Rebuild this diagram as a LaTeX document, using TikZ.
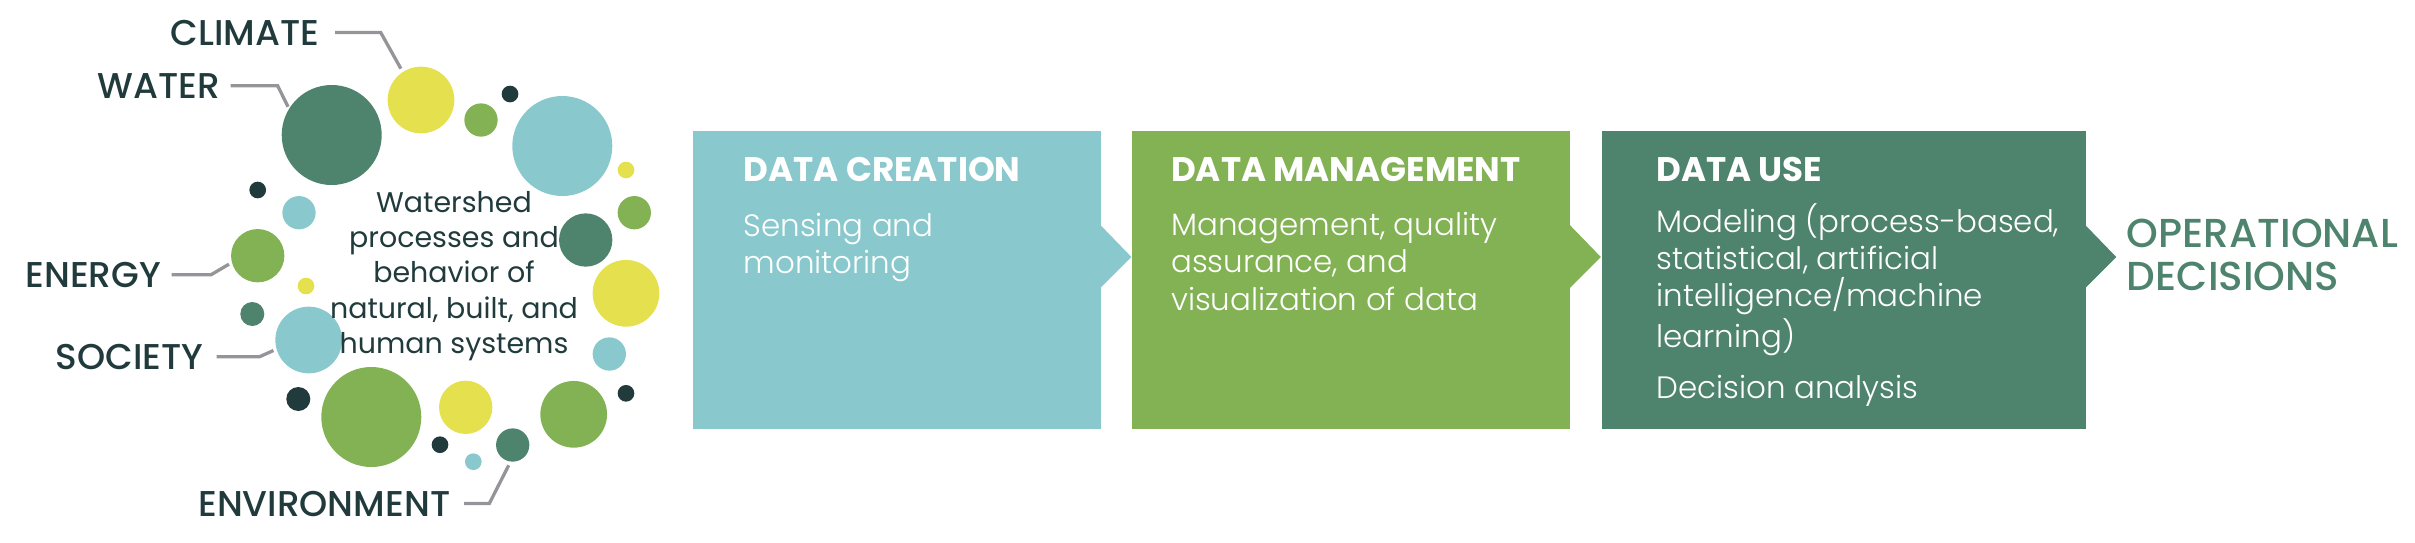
\documentclass[tikz,border=0pt]{standalone}
\usepackage{fontspec}
\setmainfont{Poppins}
\newfontfamily\lightfont{Poppins Light}
\newfontfamily\mediumfont{Poppins Medium}
\usepackage{tikz}
\usetikzlibrary{positioning, calc}

\definecolor{lblue}{HTML}{89C9CD}
\definecolor{lgreen}{HTML}{82B253}
\definecolor{dkgreen}{HTML}{4E836D}
\definecolor{lyellow}{HTML}{E4E04E}
\definecolor{ink}{HTML}{213B3D}
\definecolor{leadgray}{HTML}{939598}

\begin{document}
\begin{tikzpicture}[x=0.1mm, y=-0.1mm,
    bubble/.style={circle, inner sep=0pt, draw=none},
    r8/.style={bubble, minimum size=1.67mm},
    r12/.style={bubble, minimum size=2.4mm},
    r17/.style={bubble, minimum size=3.33mm},
    r27/.style={bubble, minimum size=5.33mm},
    r33/.style={bubble, minimum size=6.67mm},
    r50/.style={bubble, minimum size=10mm},
    stage/.style={rectangle, inner sep=0pt, anchor=north west,
                  minimum height=29.8mm, draw=none},
    title/.style={font=\bfseries\fontsize{9.7}{11}\selectfont,
                  text=white, anchor=base west, inner sep=0pt},
    body/.style={font=\lightfont\fontsize{8.8}{10.53}\selectfont,
                 text=white, align=left, anchor=base west, inner sep=0pt},
    tag/.style={font=\mediumfont\fontsize{10.2}{11}\selectfont,
                text=ink, anchor=base east, inner sep=0pt},
    leader/.style={draw=leadgray, line width=0.33mm}]
    \useasboundingbox (0,0) rectangle (2415,542);

    % Add the bubbles
        \node[r50, fill=dkgreen] (water) at (331.7,135) {};
        \node[r33, fill=lyellow] (climate) at (421,100) {};
        \node[r17, fill=lgreen] (b3) at (481,120) {};
        \node[r8, fill=ink] (b4) at (510,94) {};
        \node[r50, fill=lblue] (b5) at (562.3,146) {};
        \node[r8, fill=lyellow] (b6) at (626,170) {};
        \node[r17, fill=lgreen] (b7) at (634.3,212.7) {};
        \node[r27, fill=dkgreen] (b8) at (585.7,240) {};
        \node[r33, fill=lyellow] (b9) at (626,293.3) {};
        \node[r17, fill=lblue] (b10) at (609.3,354) {};
        \node[r8, fill=ink] (b11) at (626,393.3) {};
        \node[r33, fill=lgreen] (b12) at (573.7,414.3) {};
        \node[r17, fill=dkgreen] (env) at (512.7,445) {};
        \node[r8, fill=lblue] (b14) at (473.3,461.7) {};
        \node[r8, fill=ink] (b15) at (440,444.7) {};
        \node[r27, fill=lyellow] (b16) at (465.7,407.3) {};
        \node[r50, fill=lgreen] (b17) at (371.3,417) {};
        \node[r12, fill=ink] (b18) at (298.3,399) {};
        \node[r33, fill=lblue] (society) at (308.7,340) {};
        \node[r12, fill=dkgreen] (b20) at (252.3,314) {};
        \node[r8, fill=lyellow] (b21) at (306,286) {};
        \node[r27, fill=lgreen] (energy) at (257.7,255.7) {};
        \node[r17, fill=lblue] (b23) at (299,212.7) {};
        \node[r8, fill=ink] (b24) at (257.7,190) {};

        % base of a multi-line node = baseline of its last line
        \node[font=\fontsize{8.1}{9.96}\selectfont, text=ink, align=center,
              anchor=base, inner sep=0pt] (core) at (454,353)
              {Watershed\\processes and\\behavior of\\natural, built, and\\human systems};

    % Add the labels
        \node[tag] (lclimate) at (320,45) {CLIMATE};
        \node[tag] (lwater) at (220.7,98.3) {WATER};
        \node[tag] (lenergy) at (161.7,287.3) {ENERGY};
        \node[tag] (lsociety) at (204,369.3) {SOCIETY};
        \node[tag] (lenv) at (451,516) {ENVIRONMENT};

        \draw[leader, shorten <=1.5mm, shorten >=0.33mm]
            (lclimate.east) -- ++(60.7,0) -- (climate.123);
        \draw[leader, shorten <=1mm, shorten >=0.15mm]
            (lwater.east) -- ++(57,0) -- (water.148);
        \draw[leader, shorten <=1mm, shorten >=0.27mm]
            (lenergy.east) -- ++(49.3,0) -- (energy.195);
        \draw[leader, shorten <=1.27mm, shorten >=0.28mm]
            (lsociety.east) -- ++(55.3,0) -- (society.196);
        \draw[leader, shorten <=1.3mm, shorten >=0.35mm]
            (lenv.east) -- ++(38.3,0) -- (env.262);

    % Add the stages
        \node[stage, fill=lblue, minimum width=40.8mm] (create) at (692,130) {};
        \node[stage, fill=lgreen, minimum width=43.8mm,
              right=3mm of create] (manage) {};
        \node[stage, fill=dkgreen, minimum width=48.4mm,
              right=3mm of manage] (use) {};

        \fill[lblue] ($(create.north east)+(-1,95)$) -- ($(create.north east)+(30,127)$)
            -- ($(create.north east)+(-1,158)$) -- cycle;
        \fill[lgreen] ($(manage.north east)+(-1,95)$) -- ($(manage.north east)+(30,127)$)
            -- ($(manage.north east)+(-1,158)$) -- cycle;
        \fill[dkgreen] ($(use.north east)+(-1,95)$) -- ($(use.north east)+(30,127)$)
            -- ($(use.north east)+(-1,158)$) -- cycle;

        \node[title] (createT) at ($(create.north west)+(51,51)$) {DATA CREATION};
        \node[body] (createB) at ($(createT.base west)+(0,92)$) {Sensing and\\monitoring};
        \node[title] (manageT) at ($(manage.north west)+(39,51)$) {DATA MANAGEMENT};
        \node[body] (manageB) at ($(manageT.base west)+(0,129)$)
            {Management, quality\\assurance, and\\visualization of data};
        \node[title] (useT) at ($(use.north west)+(55,51)$) {DATA USE};
        \node[body] (useB) at ($(useT.base west)+(0,217)$)
            {Modeling (process-based,\\statistical, artificial\\intelligence/machine\\learning)\\[1.4mm]Decision analysis};

        \node[font=\mediumfont\fontsize{11.5}{12.2}\selectfont, text=dkgreen, align=left,
              anchor=base west, inner sep=0pt] (ops) at ($(use.north east)+(40,160)$)
              {OPERATIONAL\\DECISIONS};
\end{tikzpicture}
\end{document}
